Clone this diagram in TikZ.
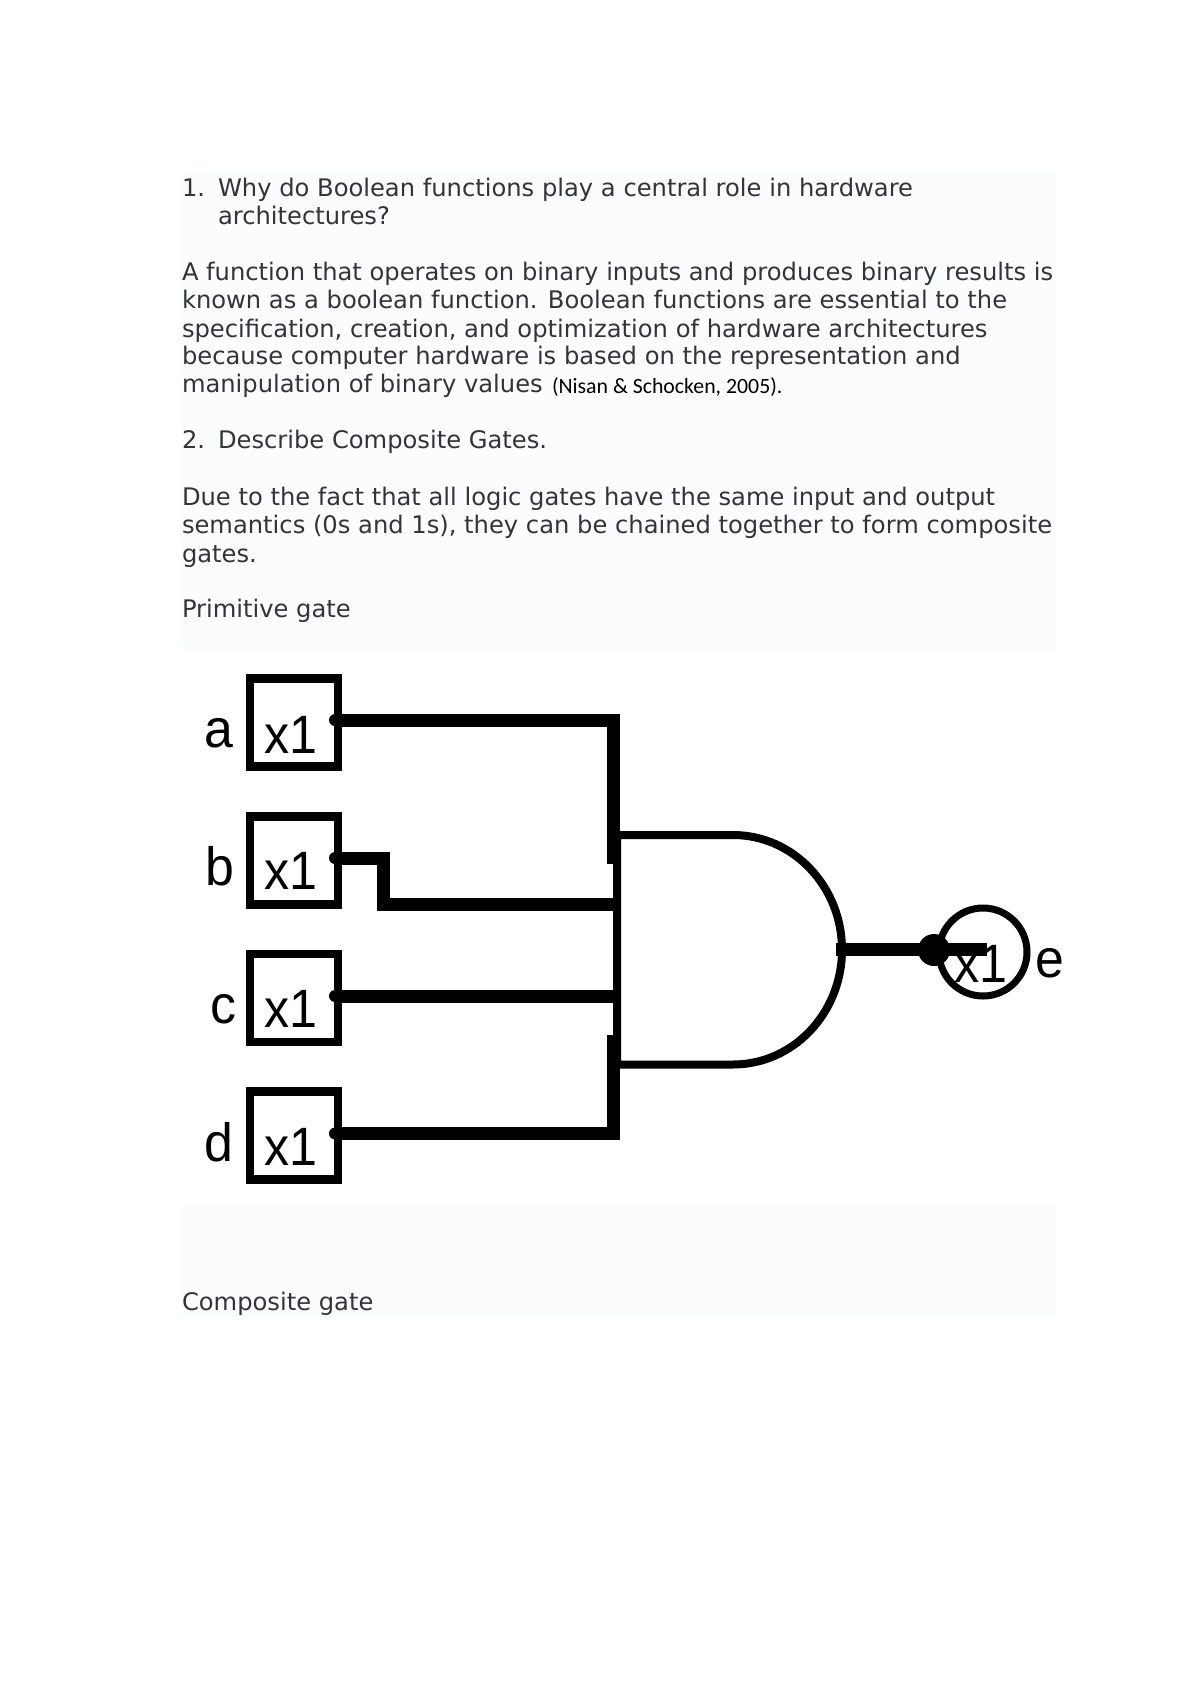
\documentclass[tikz,border=0pt]{standalone}
\usepackage{fontspec}
\setmainfont{DejaVu Sans}
\newfontfamily\gatefont[FakeStretch=0.93]{Liberation Sans}
\newfontfamily\labelfont[FakeStretch=0.96]{Liberation Sans}
\newfontfamily\citefont{Carlito}
\usetikzlibrary{calc}
\definecolor{panelcol}{HTML}{FBFCFC}
\definecolor{inkcol}{HTML}{30353A}
\tikzset{
  panel/.style={fill=panelcol, draw=none},
  textline/.style={anchor=base west, inner sep=0pt, outer sep=0pt, text=inkcol, font=\fontsize{12.1}{14}\selectfont},
  inbox/.style={draw, line width=4.2pt, minimum width=44pt, minimum height=44pt, inner sep=0pt, outer sep=0pt},
  boxtext/.style={anchor=base, inner sep=0pt, font=\gatefont\fontsize{27}{30}\selectfont},
  pinlabel/.style={anchor=base, inner sep=0pt, font=\labelfont\fontsize{27}{30}\selectfont},
  pindot/.style={circle, fill, minimum size=6pt, inner sep=0pt, outer sep=0pt},
  bigdot/.style={circle, fill, minimum size=16pt, inner sep=0pt, outer sep=0pt},
  wire/.style={line width=6.5pt, line join=miter},
  gateline/.style={line width=4pt, line join=miter},
}
\newcommand{\textrow}[4]{\node[textline] (#1) at (#2,#3) {#4};}
\begin{document}
\begin{tikzpicture}[x=0.5pt, y=-0.5pt]
    \useasboundingbox (0,0) rectangle (1200,1698);
    \fill[white] (0,0) rectangle (1200,1698);
    \fill[panel] (182,172) rectangle (1056,652);
    \fill[panel] (182,1203) rectangle (1056,1317);
    % text above the gate
    \textrow{num1}{182}{196}{1.}
    \textrow{line1}{218}{196}{Why do Boolean functions play a central role in hardware}
    \textrow{line2}{218}{224}{architectures?}
    \textrow{line3}{182}{280}{A function that operates on binary inputs and produces binary results is}
    \textrow{line4}{182}{308}{known as a boolean function. Boolean functions are essential to the}
    \textrow{line5}{182}{337}{specification, creation, and optimization of hardware architectures}
    \textrow{line6}{182}{364}{because computer hardware is based on the representation and}
    \textrow{line7}{182}{392}{manipulation of binary values}
    \node[textline, font=\citefont\fontsize{10.9}{12}\selectfont, text=black] (cite) at (552,393) {(Nisan \& Schocken, 2005).};
    \textrow{num2}{182}{448}{2.}
    \textrow{line8}{218}{448}{Describe Composite Gates.}
    \textrow{line9}{182}{505}{Due to the fact that all logic gates have the same input and output}
    \textrow{line10}{182}{533}{semantics (0s and 1s), they can be chained together to form composite}
    \textrow{line11}{182}{562}{gates.}
    \textrow{line12}{182}{617}{Primitive gate}
    \textrow{line13}{182}{1310}{Composite gate}
    % input boxes
    \node[inbox] (boxa) at (294,722.5) {};
    \node[inbox] (boxb) at (294,860.5) {};
    \node[inbox] (boxc) at (294,998) {};
    \node[inbox] (boxd) at (294,1135.5) {};
    \node[boxtext] (timesa) at (291,753) {x1};
    \node[boxtext] (timesb) at (291,889) {x1};
    \node[boxtext] (timesc) at (291,1027) {x1};
    \node[boxtext] (timesd) at (291,1165) {x1};
    \node[pinlabel] (labela) at (219,747) {a};
    \node[pinlabel] (labelb) at (220,885) {b};
    \node[pinlabel] (labelc) at (223,1023) {c};
    \node[pinlabel] (labeld) at (219,1161) {d};
    \node[pindot] (pina) at (335,720) {};
    \node[pindot] (pinb) at (335,858) {};
    \node[pindot] (pinc) at (335,996) {};
    \node[pindot] (pind) at (335,1133.5) {};
    % wires into the gate
    \coordinate (cornera) at (613.5,720);
    \coordinate (enda) at (613.5,864);
    \coordinate (stepb) at (383.5,858);
    \coordinate (lowb) at (383.5,904);
    \coordinate (endb) at (617,904);
    \coordinate (endc) at (617,996);
    \coordinate (cornerd) at (613.5,1133.5);
    \coordinate (endd) at (613.5,1035);
    \draw[wire] (pina) -- (cornera) -- (enda);
    \draw[wire] (pinb) -- (stepb) -- (lowb) -- (endb);
    \draw[wire] (pinc) -- (endc);
    \draw[wire] (pind) -- (cornerd) -- (endd);
    % the gate
    \coordinate (gatetop) at (617,835);
    \coordinate (gatebot) at (617,1064.5);
    \draw[gateline] (gatetop) -- (733,835) arc[start angle=-90, end angle=90, x radius=109, y radius=114.75] -- (gatebot) -- cycle;
    % output
    \coordinate (gateout) at (836,949.5);
    \node[circle, draw, line width=3.5pt, minimum size=44pt, inner sep=0pt, outer sep=0pt] (outcircle) at (983,952) {};
    \node[boxtext] (timese) at (981,982) {x1};
    \node[pinlabel] (labele) at (1050,977) {e};
    \node[bigdot] (outdot) at (934,950) {};
    \coordinate (wireend) at (987,949.5);
    \draw[wire] (gateout) -- (wireend);
\end{tikzpicture}
\end{document}
